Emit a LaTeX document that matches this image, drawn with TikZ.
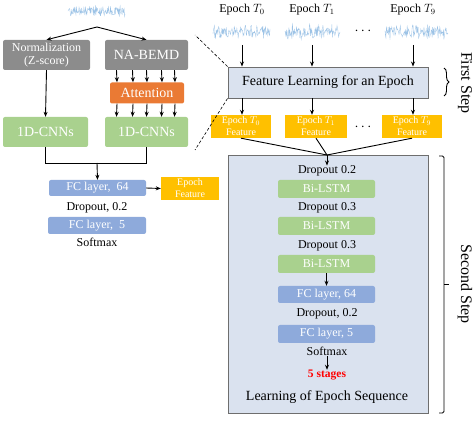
\documentclass[tikz,border=0pt]{standalone}
\usepackage{fontspec}
\setmainfont{Liberation Serif}
\usetikzlibrary{arrows.meta,decorations.pathreplacing}
\definecolor{cgray}{HTML}{8C8C8C}
\definecolor{corange}{HTML}{EA7A34}
\definecolor{cgreen}{HTML}{A9D18E}
\definecolor{cblue}{HTML}{8EAADB}
\definecolor{cyellow}{HTML}{FFC000}
\definecolor{cpanel}{HTML}{DAE2EF}
\definecolor{cwave}{HTML}{9DC3E6}
\definecolor{cborder}{HTML}{6E6E6E}
\tikzset{
  box/.style={rectangle,inner sep=0pt,text=white,align=center,rounded corners=2pt},
  graybox/.style={box,fill=cgray,font=\fontsize{12}{13}\selectfont},
  orangebox/.style={box,fill=corange,font=\fontsize{14}{15}\selectfont},
  greenbox/.style={box,fill=cgreen,font=\fontsize{14}{15}\selectfont},
  lstmbox/.style={box,fill=cgreen,font=\fontsize{12}{13}\selectfont,minimum width=97pt,minimum height=18pt},
  bluebox/.style={box,fill=cblue,font=\fontsize{12}{13}\selectfont},
  featbox/.style={box,rounded corners=0pt,fill=cyellow,font=\fontsize{10}{12}\selectfont},
  lbl/.style={inner sep=0pt,font=\fontsize{12}{13}\selectfont},
  arr/.style={-{Stealth[length=5pt,width=4pt]},line width=0.9pt},
  ln/.style={line width=0.9pt},
  wave/.style={cwave,line width=0.35pt},
}
\begin{document}
\begin{tikzpicture}[x=1pt,y=-1pt]
\useasboundingbox (0,0) rectangle (474,438);
\pgfmathsetseed{11}
% ---------- left sub-figure ----------
\draw[wave] plot[domain=68:125,samples=130] (\x,{11+6*rand*(0.35+0.65*abs(sin(\x*37)))});
\coordinate (split) at (97,27);
\node[graybox,minimum width=87pt,minimum height=30pt] (norm) at (46.5,55) {Normalization\\(Z-score)};
\node[graybox,minimum width=83pt,minimum height=30pt,font=\fontsize{14}{15}\selectfont] (nabemd) at (146.5,55) {NA-BEMD};
\node[orangebox,minimum width=74pt,minimum height=21pt] (att) at (147,93) {Attention};
\node[greenbox,minimum width=85pt,minimum height=30pt] (cnn1) at (45.5,132) {1D-CNNs};
\node[greenbox,minimum width=83pt,minimum height=30pt] (cnn2) at (146.5,132) {1D-CNNs};
\node[bluebox,minimum width=97pt,minimum height=16pt] (fc1) at (97.5,188) {FC layer,\ \ 64};
\node[featbox,minimum width=58pt,minimum height=23pt] (ef) at (190,188.5) {Epoch\\Feature};
\node[lbl] (dr) at (97,208) {Dropout, 0.2};
\node[bluebox,minimum width=98pt,minimum height=17pt] (fc2) at (97,225.5) {FC layer,\ \ 5};
\node[lbl] (sm) at (97,242) {Softmax};
\draw[arr] (split) -- (norm.north);
\draw[arr] (split) -- (nabemd.north);
\foreach \dx in {-30,-14,0,15,28} {
  \draw[arr] ([xshift=\dx pt]nabemd.south) -- ([xshift=\dx pt]att.north);
  \draw[arr] ([xshift=\dx pt]att.south) -- ([xshift=\dx pt]cnn2.north);
}
\draw[arr] (norm.south) -- (cnn1.north);
\coordinate (join) at (97,163);
\draw[ln] (cnn1.south) -- (cnn1.south |- join) -- (cnn2.south |- join) -- (cnn2.south);
\draw[arr] (join) -- (fc1.north);
\draw[arr] (fc1.east) -- (ef.west);
% ---------- right part ----------
\node[lbl] (e0) at (242,10) {Epoch $T_0$};
\node[lbl] (e1) at (312,10) {Epoch $T_1$};
\node[lbl] (e9) at (413,10) {Epoch $T_9$};
\draw[wave] plot[domain=213:270,samples=130] (\x,{32+7*rand*(0.35+0.65*abs(sin(\x*29)))});
\draw[wave] plot[domain=285:340,samples=130] (\x,{32+8*rand*(0.35+0.65*abs(sin(\x*41)))});
\draw[wave] plot[domain=385:448,samples=140] (\x,{32+8*rand*(0.35+0.65*abs(sin(\x*33)))});
\coordinate (w0) at (242,45);
\coordinate (w1) at (312,45);
\coordinate (w9) at (413,45);
\node[lbl,font=\fontsize{14}{15}\selectfont] (dots1) at (363,31) {$\cdots$};
\node[rectangle,draw=cborder,fill=cpanel,line width=0.9pt,minimum width=200pt,minimum height=31pt,inner sep=0pt,font=\fontsize{14}{15}\selectfont] (fl) at (328,82.5) {Feature Learning for an Epoch};
\draw[arr] (w0) -- (w0 |- fl.north);
\draw[arr] (w1) -- (w1 |- fl.north);
\draw[arr] (w9) -- (w9 |- fl.north);
\node[featbox,minimum width=60pt,minimum height=23pt] (f0) at (241,126.5) {Epoch $T_0$\\Feature};
\node[featbox,minimum width=62pt,minimum height=23pt] (f1) at (316,126.5) {Epoch $T_1$\\Feature};
\node[featbox,minimum width=60pt,minimum height=23pt] (f9) at (412,126.5) {Epoch $T_9$\\Feature};
\node[lbl,font=\fontsize{14}{15}\selectfont] (dots2) at (363,127) {$\cdots$};
\draw[arr] (w0 |- fl.south) -- (w0 |- f0.north);
\draw[arr] (w1 |- fl.south) -- (w1 |- f1.north);
\draw[arr] (w9 |- fl.south) -- (w9 |- f9.north);
% zoom dashed lines
\coordinate (zA) at (195,35);
\coordinate (zB) at (195,150);
\draw[dashed,line width=0.6pt,dash pattern=on 3pt off 2pt] (fl.north west) -- (zA);
\draw[dashed,line width=0.6pt,dash pattern=on 3pt off 2pt] (fl.south west) -- (zB);
% second step panel
\node[rectangle,draw=cborder,fill=cpanel,line width=0.9pt,minimum width=200pt,minimum height=258pt,inner sep=0pt] (seq) at (328,284) {};
\coordinate (conv) at (327,155);
\draw[ln] (f0.south) -- (conv);
\draw[ln] (f1.south) -- (conv);
\draw[ln] (f9.south) -- (conv);
\node[lbl] (d1) at (327,171) {Dropout 0.2};
\draw[arr] (conv) -- (d1.north);
\node[lstmbox] (bl1) at (326.5,189) {Bi-LSTM};
\node[lbl] (d2) at (327,207.5) {Dropout 0.3};
\node[lstmbox] (bl2) at (326.5,226) {Bi-LSTM};
\node[lbl] (d3) at (327,245.5) {Dropout 0.3};
\node[lstmbox] (bl3) at (326.5,264) {Bi-LSTM};
\node[bluebox,minimum width=97pt,minimum height=17pt] (fc3) at (326.5,294.5) {FC layer, 64};
\draw[arr] (bl3.south) -- (fc3.north);
\node[lbl] (d4) at (327,313.5) {Dropout, 0.2};
\node[bluebox,minimum width=97pt,minimum height=18pt] (fc4) at (326.5,334) {FC layer, 5};
\node[lbl] (sm2) at (327,351.5) {Softmax};
\node[lbl,text=red,font=\bfseries\fontsize{11.5}{13}\selectfont] (st) at (327,375) {5 stages};
\draw[arr] (sm2.south) -- (st.north);
\node[lbl,font=\fontsize{14}{15}\selectfont] (lr) at (327,397) {Learning of Epoch Sequence};
% braces and step labels
\draw[decorate,decoration={brace,amplitude=5pt},line width=0.9pt] (444,68) -- (444,96);
\node[lbl,font=\fontsize{16}{17}\selectfont,rotate=-90] (s1) at (465,83) {First Step};
\draw[line width=0.9pt,rounded corners=1.5pt] (439,156) -- (444,156) -- (444,413) -- (439,413);
\draw[line width=0.9pt] (444,284) -- (449,284);
\node[lbl,font=\fontsize{16}{17}\selectfont,rotate=-90] (s2) at (465,284) {Second Step};
\end{tikzpicture}
\end{document}
